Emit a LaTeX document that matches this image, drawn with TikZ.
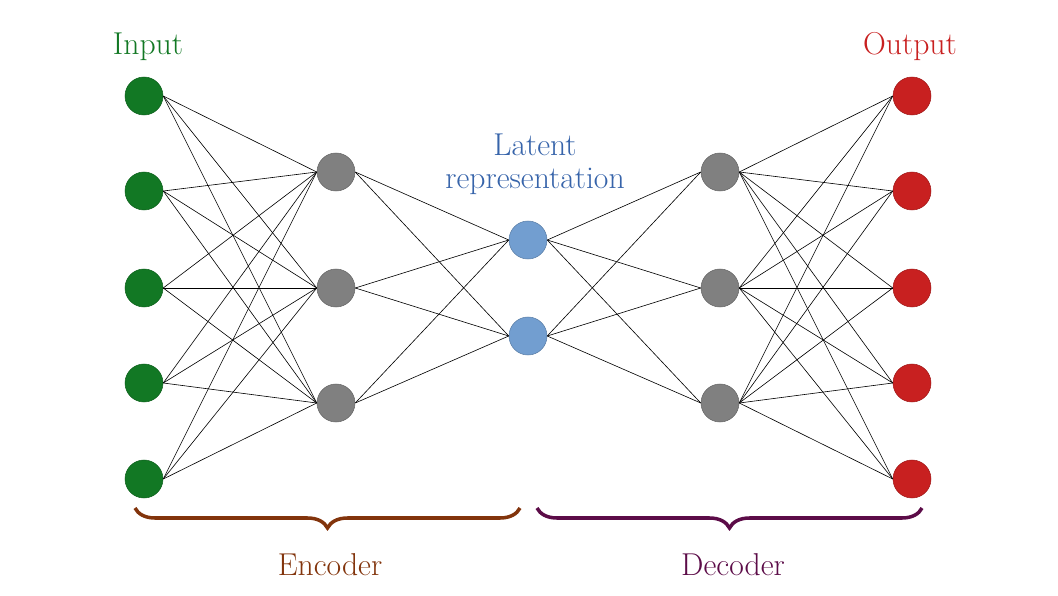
\documentclass[tikz,border=0pt]{standalone}
\usetikzlibrary{decorations.pathreplacing}
\definecolor{ingreen}{RGB}{18,120,36}
\definecolor{hgray}{RGB}{128,128,128}
\definecolor{lblue}{RGB}{114,158,208}
\definecolor{latxt}{RGB}{55,100,170}
\definecolor{outred}{RGB}{200,32,32}
\definecolor{encb}{RGB}{130,52,12}
\definecolor{decp}{RGB}{92,12,72}
\begin{document}
\begin{tikzpicture}[x=0.02cm,y=-0.02cm,
  neuron/.style={circle,minimum size=0.76cm,inner sep=0pt,draw=#1!80!black,fill=#1,line width=0.3pt},
  edge/.style={black,line width=0.35pt},
  lab/.style={font=\fontsize{18}{21}\selectfont},
  br/.style={decorate,decoration={brace,mirror,amplitude=0.4cm},line width=2pt}]
\useasboundingbox (0,0) rectangle (1058,595);
\foreach \i/\y in {1/96,2/191,3/288,4/383,5/479}{
  \node[neuron=ingreen] (i\i) at (144,\y) {};
  \node[neuron=outred] (o\i) at (912,\y) {};}
\foreach \i/\y in {1/172,2/288,3/403}{
  \node[neuron=hgray] (a\i) at (336,\y) {};
  \node[neuron=hgray] (b\i) at (720,\y) {};}
\node[neuron=lblue] (l1) at (528,240) {};
\node[neuron=lblue] (l2) at (528,336) {};
\foreach \i in {1,...,5}\foreach \j in {1,2,3}{
  \draw[edge] (i\i.east) -- (a\j.west); \draw[edge] (b\j.east) -- (o\i.west);}
\foreach \j in {1,2,3}\foreach \k in {1,2}{
  \draw[edge] (a\j.east) -- (l\k.west); \draw[edge] (l\k.east) -- (b\j.west);}
\node[lab,text=ingreen] (tin) at (148,47) {Input};
\node[lab,text=outred] (tout) at (910,47) {Output};
\node[lab,text=latxt,align=center] (tl) at (535,164) {Latent\\[-2pt]representation};
\coordinate (e1) at (135,508); \coordinate (e2) at (520,508);
\coordinate (d1) at (537,508); \coordinate (d2) at (922,508);
\draw[br,encb] (e1) -- (e2);
\draw[br,decp] (d1) -- (d2);
\node[lab,text=encb] (te) at (330,565) {Encoder};
\node[lab,text=decp] (td) at (733,565) {Decoder};
\end{tikzpicture}
\end{document}
